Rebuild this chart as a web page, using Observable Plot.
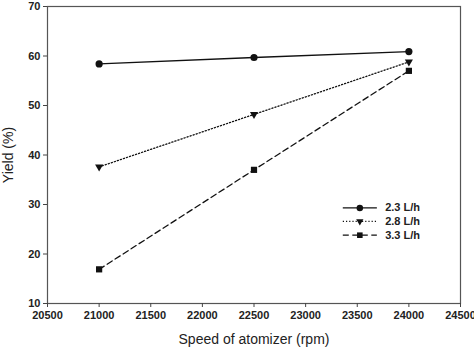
<!DOCTYPE html>
<html>
<head>
<meta charset="utf-8">
<script src="https://cdn.jsdelivr.net/npm/d3@7"></script>
<script src="https://cdn.jsdelivr.net/npm/@observablehq/plot@0.6"></script>
<style>
  body { margin: 0; background: #fff; }
  svg { font-family: "Liberation Sans", Arial, sans-serif; }
</style>
</head>
<body>
<div id="chart"></div>
<script>
const speeds = [21000, 22500, 24000];
const seriesNames = ["2.3 L/h", "2.8 L/h", "3.3 L/h"];
const yield23 = [58.4, 59.7, 60.9];
const yield28 = [37.6, 48.2, 58.8];
const yield33 = [16.9, 37.0, 57.0];
const xTicks = [20500, 21000, 21500, 22000, 22500, 23000, 23500, 24000, 24500];
const yTicks = [10, 20, 30, 40, 50, 60, 70];

const seriesValues = [yield23, yield28, yield33];
const styles = [
  {dash: null, symbol: "circle", r: 3.6, rotate: 0},
  {dash: "1.2,2", symbol: "triangle", r: 3.0, rotate: 180},
  {dash: "6,3.5", symbol: "square", r: 3.5, rotate: 0}
];
const data = seriesNames.flatMap((s, i) => speeds.map((x, j) => ({series: s, idx: i, x, y: seriesValues[i][j]})));

// legend placed in data units
const legX0 = 23360, legX1 = 23690, legXm = 23525, legXt = 23770;
const legY = [29.3, 26.6, 23.8];
const legend = seriesNames.map((s, i) => ({series: s, idx: i, y: legY[i]}));

const ink = "#111";
const marks = [Plot.frame({stroke: "#555", strokeWidth: 1.2})];
styles.forEach((st, i) => {
  const d = data.filter(e => e.idx === i);
  marks.push(Plot.line(d, {x: "x", y: "y", stroke: ink, strokeWidth: 1.3, strokeDasharray: st.dash}));
  marks.push(Plot.dot(d, {x: "x", y: "y", symbol: () => st.symbol, r: st.r, fill: ink, stroke: "none", rotate: st.rotate}));
  const l = legend.filter(e => e.idx === i);
  marks.push(Plot.link(l, {x1: () => legX0, x2: () => legX1, y1: "y", y2: "y", stroke: ink, strokeWidth: 1.2, strokeDasharray: st.dash}));
  marks.push(Plot.dot(l, {x: () => legXm, y: "y", symbol: () => st.symbol, r: st.r * 0.9, fill: ink, stroke: "none", rotate: st.rotate}));
  marks.push(Plot.text(l, {x: () => legXt, y: "y", text: "series", textAnchor: "start", fontWeight: "bold", fontSize: 11, fill: "#222"}));
});

const chart = Plot.plot({
  width: 474,
  height: 351,
  marginLeft: 47,
  marginRight: 14,
  marginTop: 6,
  marginBottom: 48,
  style: {fontFamily: "Liberation Sans, Arial, sans-serif", background: "#fff"},
  x: {domain: [20500, 24500]},
  y: {domain: [10, 70]},
  marks: [
    ...marks,
    Plot.axisX({ticks: xTicks, tickFormat: d => String(d), tickSize: 4, tickPadding: 4, fontWeight: "bold", fontSize: 11, fill: "#222", stroke: "#444",
      label: "Speed of atomizer (rpm)", labelAnchor: "center", labelArrow: "none", labelOffset: 40}),
    Plot.axisY({ticks: yTicks, tickSize: 4, tickPadding: 3, fontWeight: "bold", fontSize: 11, fill: "#222", stroke: "#444",
      label: "Yield (%)", labelAnchor: "center", labelArrow: "none", labelOffset: 44})
  ]
});
// enlarge axis labels
chart.querySelectorAll("g[aria-label='x-axis label'] text, g[aria-label='y-axis label'] text").forEach(t => {
  t.setAttribute("font-size", "14");
  t.setAttribute("font-weight", "normal");
  t.setAttribute("fill", "#222");
});
document.getElementById("chart").appendChild(chart);
</script>
</body>
</html>
